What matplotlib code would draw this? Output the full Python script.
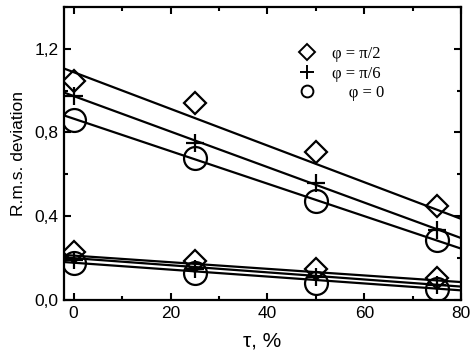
import numpy as np
import matplotlib
matplotlib.use("Agg")
import matplotlib.pyplot as plt
from matplotlib.ticker import MultipleLocator, FuncFormatter
from matplotlib.lines import Line2D

# ---- data ----
tau = [0, 25, 50, 75]
labels = ["φ = π/2", "φ = π/6", "φ = 0"]
markers = ["D", "+", "o"]

# upper group
upper_pi2 = [1.048, 0.941, 0.709, 0.448]
upper_pi6 = [0.976, 0.752, 0.560, 0.336]
upper_0 = [0.859, 0.680, 0.472, 0.285]
# lower group
lower_pi2 = [0.227, 0.184, 0.147, 0.104]
lower_pi6 = [0.190, 0.150, 0.112, 0.072]
lower_0 = [0.176, 0.128, 0.083, 0.051]

# linear fit lines (intercept, slope)
fit_upper = [(1.088, -0.00876), (0.974, -0.00848), (0.866, -0.00776)]
fit_lower = [(0.212, -0.00158), (0.200, -0.00170), (0.178, -0.00165)]

xlim = (-2, 80)
ylim = (0.0, 1.4)

plt.rcParams["font.family"] = ["Liberation Sans", "DejaVu Sans"]

fig = plt.figure(figsize=(4.74, 3.61), dpi=100)
ax = fig.add_axes([0.135, 0.169, 0.838, 0.812])

xs = np.array(xlim)
for a, b in fit_upper + fit_lower:
    ax.plot(xs, a + b * xs, color="black", lw=1.6, zorder=2)

ms = {"D": 11.0, "+": 13.0, "o": 16.5}
groups = [(upper_pi2, lower_pi2), (upper_pi6, lower_pi6), (upper_0, lower_0)]
for (up, lo), m in zip(groups, markers):
    for ys in (up, lo):
        ax.plot(tau, ys, linestyle="none", marker=m, ms=ms[m], mfc="none",
                mec="black", mew=1.6, zorder=3)

ax.set_xlim(*xlim)
ax.set_ylim(*ylim)
ax.xaxis.set_major_locator(MultipleLocator(20))
ax.xaxis.set_minor_locator(MultipleLocator(10))
ax.yaxis.set_major_locator(MultipleLocator(0.4))
ax.yaxis.set_minor_locator(MultipleLocator(0.2))
ax.yaxis.set_major_formatter(FuncFormatter(lambda v, p: f"{v:.1f}".replace(".", ",")))
ax.tick_params(which="both", direction="in", top=True, right=True, width=1.5,
               labelsize=12.5)
ax.tick_params(which="major", length=5, pad=4)
ax.tick_params(which="minor", length=3)
for s in ax.spines.values():
    s.set_linewidth(1.6)

ax.set_xlabel("τ, %", fontsize=15, labelpad=8)
ax.set_ylabel("R.m.s. deviation", fontsize=12.5, labelpad=6)

handles = [Line2D([], [], linestyle="none", marker=m, mfc="none", mec="black",
                  mew=1.4, ms={"D": 8.5, "+": 9.5, "o": 8.5}[m]) for m in markers]
shown = [labels[0], labels[1], "\u2007\u2007" + labels[2]]
leg = ax.legend(handles, shown, loc="upper right", bbox_to_anchor=(0.843, 0.917),
                frameon=False, prop={"family": "Liberation Serif", "size": 12},
                handletextpad=0.5, labelspacing=0.2)

fig.savefig("out.png", dpi=100)
